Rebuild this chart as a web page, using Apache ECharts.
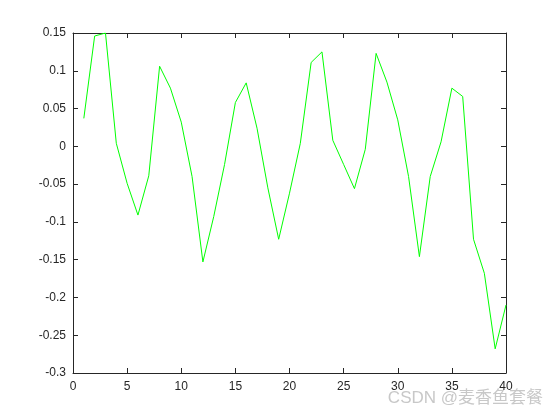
<!DOCTYPE html>
<html><head><meta charset="utf-8">
<script src="https://cdn.jsdelivr.net/npm/echarts@6/dist/echarts.min.js"></script>
<style>html,body{margin:0;padding:0;background:#fff}#c{width:560px;height:420px}</style>
</head><body><div id="c"></div>
<script>
var xValues = [1,2,3,4,5,6,7,8,9,10,11,12,13,14,15,16,17,18,19,20,21,22,23,24,25,26,27,28,29,30,31,32,33,34,35,36,37,38,39,40];
var yValues = [0.037,0.146,0.150,0.004,-0.049,-0.091,-0.039,0.106,0.077,0.032,-0.040,-0.153,-0.093,-0.024,0.058,0.084,0.024,-0.055,-0.123,-0.062,0.004,0.111,0.125,0.008,-0.024,-0.056,-0.004,0.123,0.085,0.035,-0.040,-0.146,-0.040,0.006,0.077,0.066,-0.123,-0.168,-0.268,-0.210];
var xTicks = [0,5,10,15,20,25,30,35,40];
var yTicks = [-0.3,-0.25,-0.2,-0.15,-0.1,-0.05,0,0.05,0.1,0.15];
var watermark = 'CSDN @麦香鱼套餐';

var chart = echarts.init(document.getElementById('c'));
var axisLine = {show:true, onZero:false, lineStyle:{color:'#262626', width:1}};
var tick = {show:true, inside:true, length:5, lineStyle:{color:'#262626'}};
var lab = {color:'#262626', fontSize:12, fontFamily:'Liberation Sans, Arial, sans-serif'};
chart.setOption({
  animation:false,
  grid:{left:73, right:54, top:33, bottom:47, containLabel:false},
  xAxis:[
    {type:'value', min:0, max:40, interval:5, axisLine:axisLine, axisTick:tick, splitLine:{show:false},
     axisLabel:Object.assign({margin:8, formatter:function(v){return xTicks.indexOf(v)>=0?String(v):'';}}, lab)},
    {type:'value', position:'top', min:0, max:40, interval:5, axisLine:axisLine, axisTick:tick, splitLine:{show:false}, axisLabel:{show:false}}
  ],
  yAxis:[
    {type:'value', min:-0.3, max:0.15, interval:0.05, axisLine:axisLine, axisTick:tick, splitLine:{show:false},
     axisLabel:Object.assign({margin:7, formatter:function(v){
       var r = Math.round(v*100)/100;
       for (var i=0;i<yTicks.length;i++){ if (Math.abs(yTicks[i]-r)<1e-9) return String(yTicks[i]); }
       return '';
     }}, lab)},
    {type:'value', position:'right', min:-0.3, max:0.15, interval:0.05, axisLine:axisLine, axisTick:tick, splitLine:{show:false}, axisLabel:{show:false}}
  ],
  series:[{
    type:'line', xAxisIndex:0, yAxisIndex:0, showSymbol:false, symbol:'none',
    lineStyle:{color:'#00ff00', width:1},
    data: xValues.map(function(x,i){return [x, yValues[i]];})
  }],
  graphic:[{
    type:'text', right:17, top:390,
    style:{text:watermark, fill:'#c8c8c8', fontSize:17, fontFamily:'Liberation Sans, Noto Sans CJK SC, sans-serif'}
  }]
});
</script></body></html>
